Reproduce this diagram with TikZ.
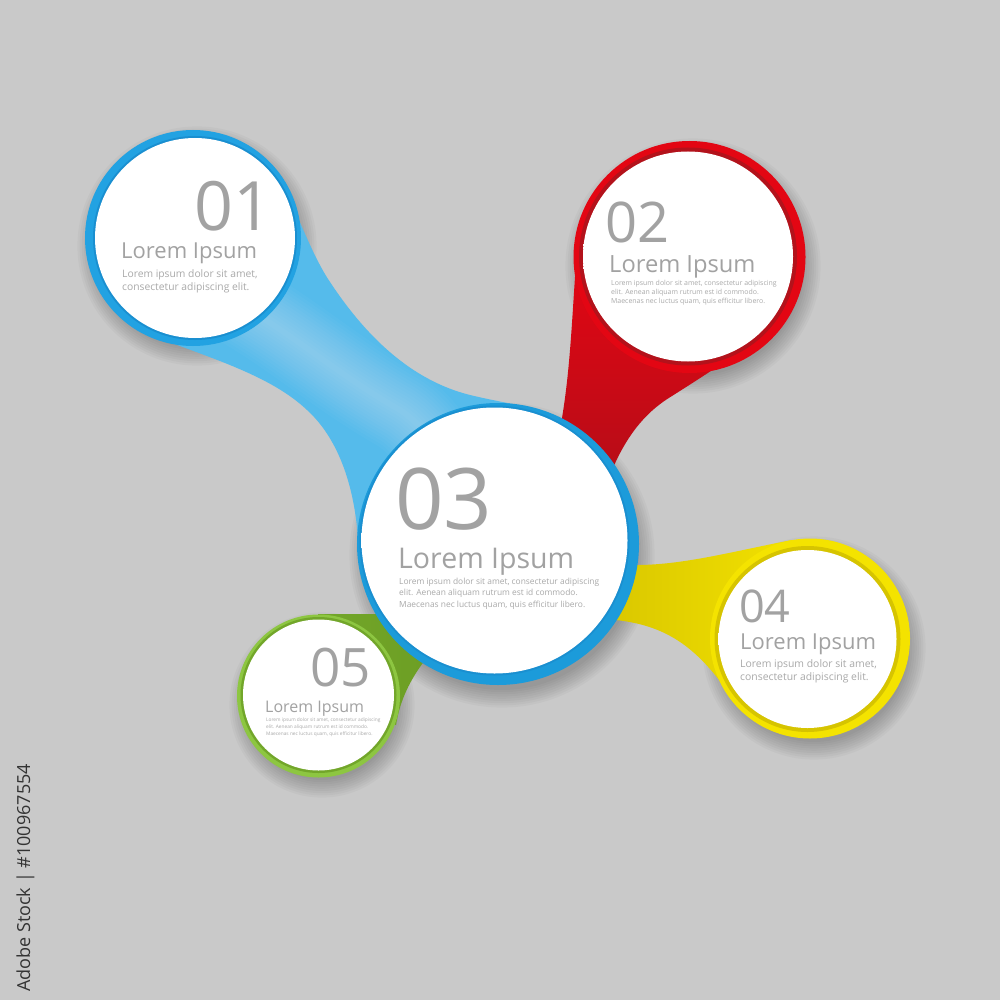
\documentclass[tikz,border=0pt]{standalone}
\usepackage{fontspec}
\setmainfont{Open Sans}
\definecolor{bgc}{HTML}{C9C9C9}
\definecolor{numgray}{HTML}{A2A2A2}
\definecolor{bodygray}{HTML}{A9A9A9}
\definecolor{discmid}{HTML}{F2F2F2}
\definecolor{discedge}{HTML}{DADADA}
\definecolor{blueA}{HTML}{22A2E2}
\definecolor{blueB}{HTML}{1A8FD0}
\definecolor{blueC}{HTML}{1C9BDA}
\definecolor{neckblueE}{HTML}{55BBEB}
\definecolor{redA}{HTML}{E30613}
\definecolor{redB}{HTML}{B3121B}
\definecolor{redD}{HTML}{A90F19}
\definecolor{yelA}{HTML}{F4E300}
\definecolor{yelB}{HTML}{D6C400}
\definecolor{yelD}{HTML}{CBB800}
\definecolor{grnA}{HTML}{8DC641}
\definecolor{grnB}{HTML}{72A62A}
\definecolor{grnD}{HTML}{6A9A20}
\definecolor{idgray}{HTML}{333333}
\pgfdeclareradialshading{discsh}{\pgfpoint{0bp}{0bp}}{color(0bp)=(white); color(30bp)=(white); color(44bp)=(discmid); color(50bp)=(discedge)}
\begin{document}
\begin{tikzpicture}[x=1pt,y=-1pt,
  txt/.style={inner sep=0pt, anchor=base west},
  numtxt/.style={txt, text=numgray, font=\fontsize{#1}{#1}\selectfont},
  titletxt/.style={txt, text=numgray, font=\fontsize{#1}{#1}\selectfont},
  bodytxt/.style={txt, text=bodygray, font=\fontsize{#1}{#1}\selectfont},
  disc/.style={shading=discsh},
  shadowc/.style={fill=black, opacity=0.028}]
\useasboundingbox (0,0) rectangle (1000,1000);
\fill[bgc] (0,0) rectangle (1000,1000);
% soft shadows
\foreach \cx/\cy/\r in {197/246/108, 693/266/116, 502/555/141, 814/648/100, 322/705/81} {
  \foreach \k in {0,...,8} {
    \fill[shadowc] (\cx,\cy) circle ({\r-6+\k*2.2});
  }
}
% blue neck with a soft light band along its axis
\begin{scope}
\clip (145,333) .. controls (210,358) and (270,375) .. (307,410)
  .. controls (340,440) and (355,490) .. (358,540) -- (498,544) -- (530,408)
  .. controls (510,403) and (495,401) .. (470,395)
  .. controls (410,380) and (365,335) .. (330,282)
  .. controls (305,245) and (290,185) .. (262,157) -- (193,238) -- cycle;
\fill[neckblueE] (100,100) rectangle (600,600);
\foreach \w in {84,78,...,6} {
  \draw[white, opacity=0.028, line width=\w pt, line cap=round]
    (215,290) .. controls (290,330) and (330,370) .. (400,410) .. controls (430,430) and (445,460) .. (450,500);
}
\end{scope}
% red neck
\path[top color=redA, bottom color=redD]
  (576,262) .. controls (572,320) and (570,370) .. (562,418) -- (498,544) -- (612,470)
  .. controls (625,440) and (642,414) .. (672,396)
  .. controls (705,375) and (745,350) .. (775,322) -- (689,257) -- cycle;
% yellow neck
\path[left color=yelD, right color=yelA]
  (630,565) .. controls (680,566) and (730,552) .. (792,540) -- (810,638) -- (735,702)
  .. controls (700,650) and (670,626) .. (616,620) -- (498,544) -- cycle;
% green neck
\path[left color=grnB, right color=grnD]
  (318,614) -- (378,614) -- (498,544) -- (425,660)
  .. controls (410,680) and (400,700) .. (396,725) -- (318.5,696) -- cycle;
% circle 1
\fill[blueA] (193,238) circle (108);
\fill[blueB] (195,238) circle (102);
\shade[disc] (195,238) circle (100);
% circle 2
\fill[redA] (689.5,257) circle (116);
\fill[redB] (688,256.5) circle (109);
\shade[disc] (688,256.5) circle (105);
% circle 4
\fill[yelA] (810,638.5) circle (100);
\fill[yelB] (807.5,639) circle (93);
\shade[disc] (807.5,639) circle (89);
% circle 5
\fill[grnA] (318.5,696) circle (81.5);
\fill[grnB] (318.5,695) circle (78);
\shade[disc] (318.5,695) circle (75.5);
% circle 3
\fill[blueC] (498,544) circle (141);
\fill[blueB] (494.5,540.5) circle (135);
\shade[disc] (494.5,540.5) circle (133);
% texts circle 1
\node[numtxt=68] (n1) at (194,230) {01};
\node[titletxt=22] (h1) at (121,258.5) {Lorem Ipsum};
\node[bodytxt=10.3] (b1a) at (122,277) {Lorem ipsum dolor sit amet,};
\node[bodytxt=10.3] (b1b) at (122,290) {consectetur adipiscing elit.};
% texts circle 2
\node[numtxt=56] (n2) at (605,243) {02};
\node[titletxt=23.7] (h2) at (609,272) {Lorem Ipsum};
\node[bodytxt=6.95] (b2a) at (611,285.7) {Lorem ipsum dolor sit amet, consectetur adipiscing};
\node[bodytxt=6.95] (b2b) at (611,294.5) {elit. Aenean aliquam rutrum est id commodo.};
\node[bodytxt=6.95] (b2c) at (611,303.3) {Maecenas nec luctus quam, quis efficitur libero.};
% texts circle 3
\node[numtxt=85] (n3) at (395,529) {03};
\node[titletxt=28.5] (h3) at (398,568) {Lorem Ipsum};
\node[bodytxt=8.4] (b3a) at (399,584) {Lorem ipsum dolor sit amet, consectetur adipiscing};
\node[bodytxt=8.4] (b3b) at (399,595.5) {elit. Aenean aliquam rutrum est id commodo.};
\node[bodytxt=8.4] (b3c) at (399,607) {Maecenas nec luctus quam, quis efficitur libero.};
% texts circle 4
\node[numtxt=45] (n4) at (739,622) {04};
\node[titletxt=22] (h4) at (740,649) {Lorem Ipsum};
\node[bodytxt=10.4] (b4a) at (740,667) {Lorem ipsum dolor sit amet,};
\node[bodytxt=10.4] (b4b) at (740,680) {consectetur adipiscing elit.};
% texts circle 5
\node[numtxt=53] (n5) at (310,686) {05};
\node[titletxt=16] (h5) at (265,712) {Lorem Ipsum};
\node[bodytxt=4.8] (b5a) at (266,721) {Lorem ipsum dolor sit amet, consectetur adipiscing};
\node[bodytxt=4.8] (b5b) at (266,728) {elit. Aenean aliquam rutrum est id commodo.};
\node[bodytxt=4.8] (b5c) at (266,735) {Maecenas nec luctus quam, quis efficitur libero.};
% stock id
\node[txt, rotate=90, text=idgray, font=\fontsize{18}{18}\selectfont] (sid) at (30,992) {Adobe Stock | \#100967554};
\end{tikzpicture}
\end{document}
